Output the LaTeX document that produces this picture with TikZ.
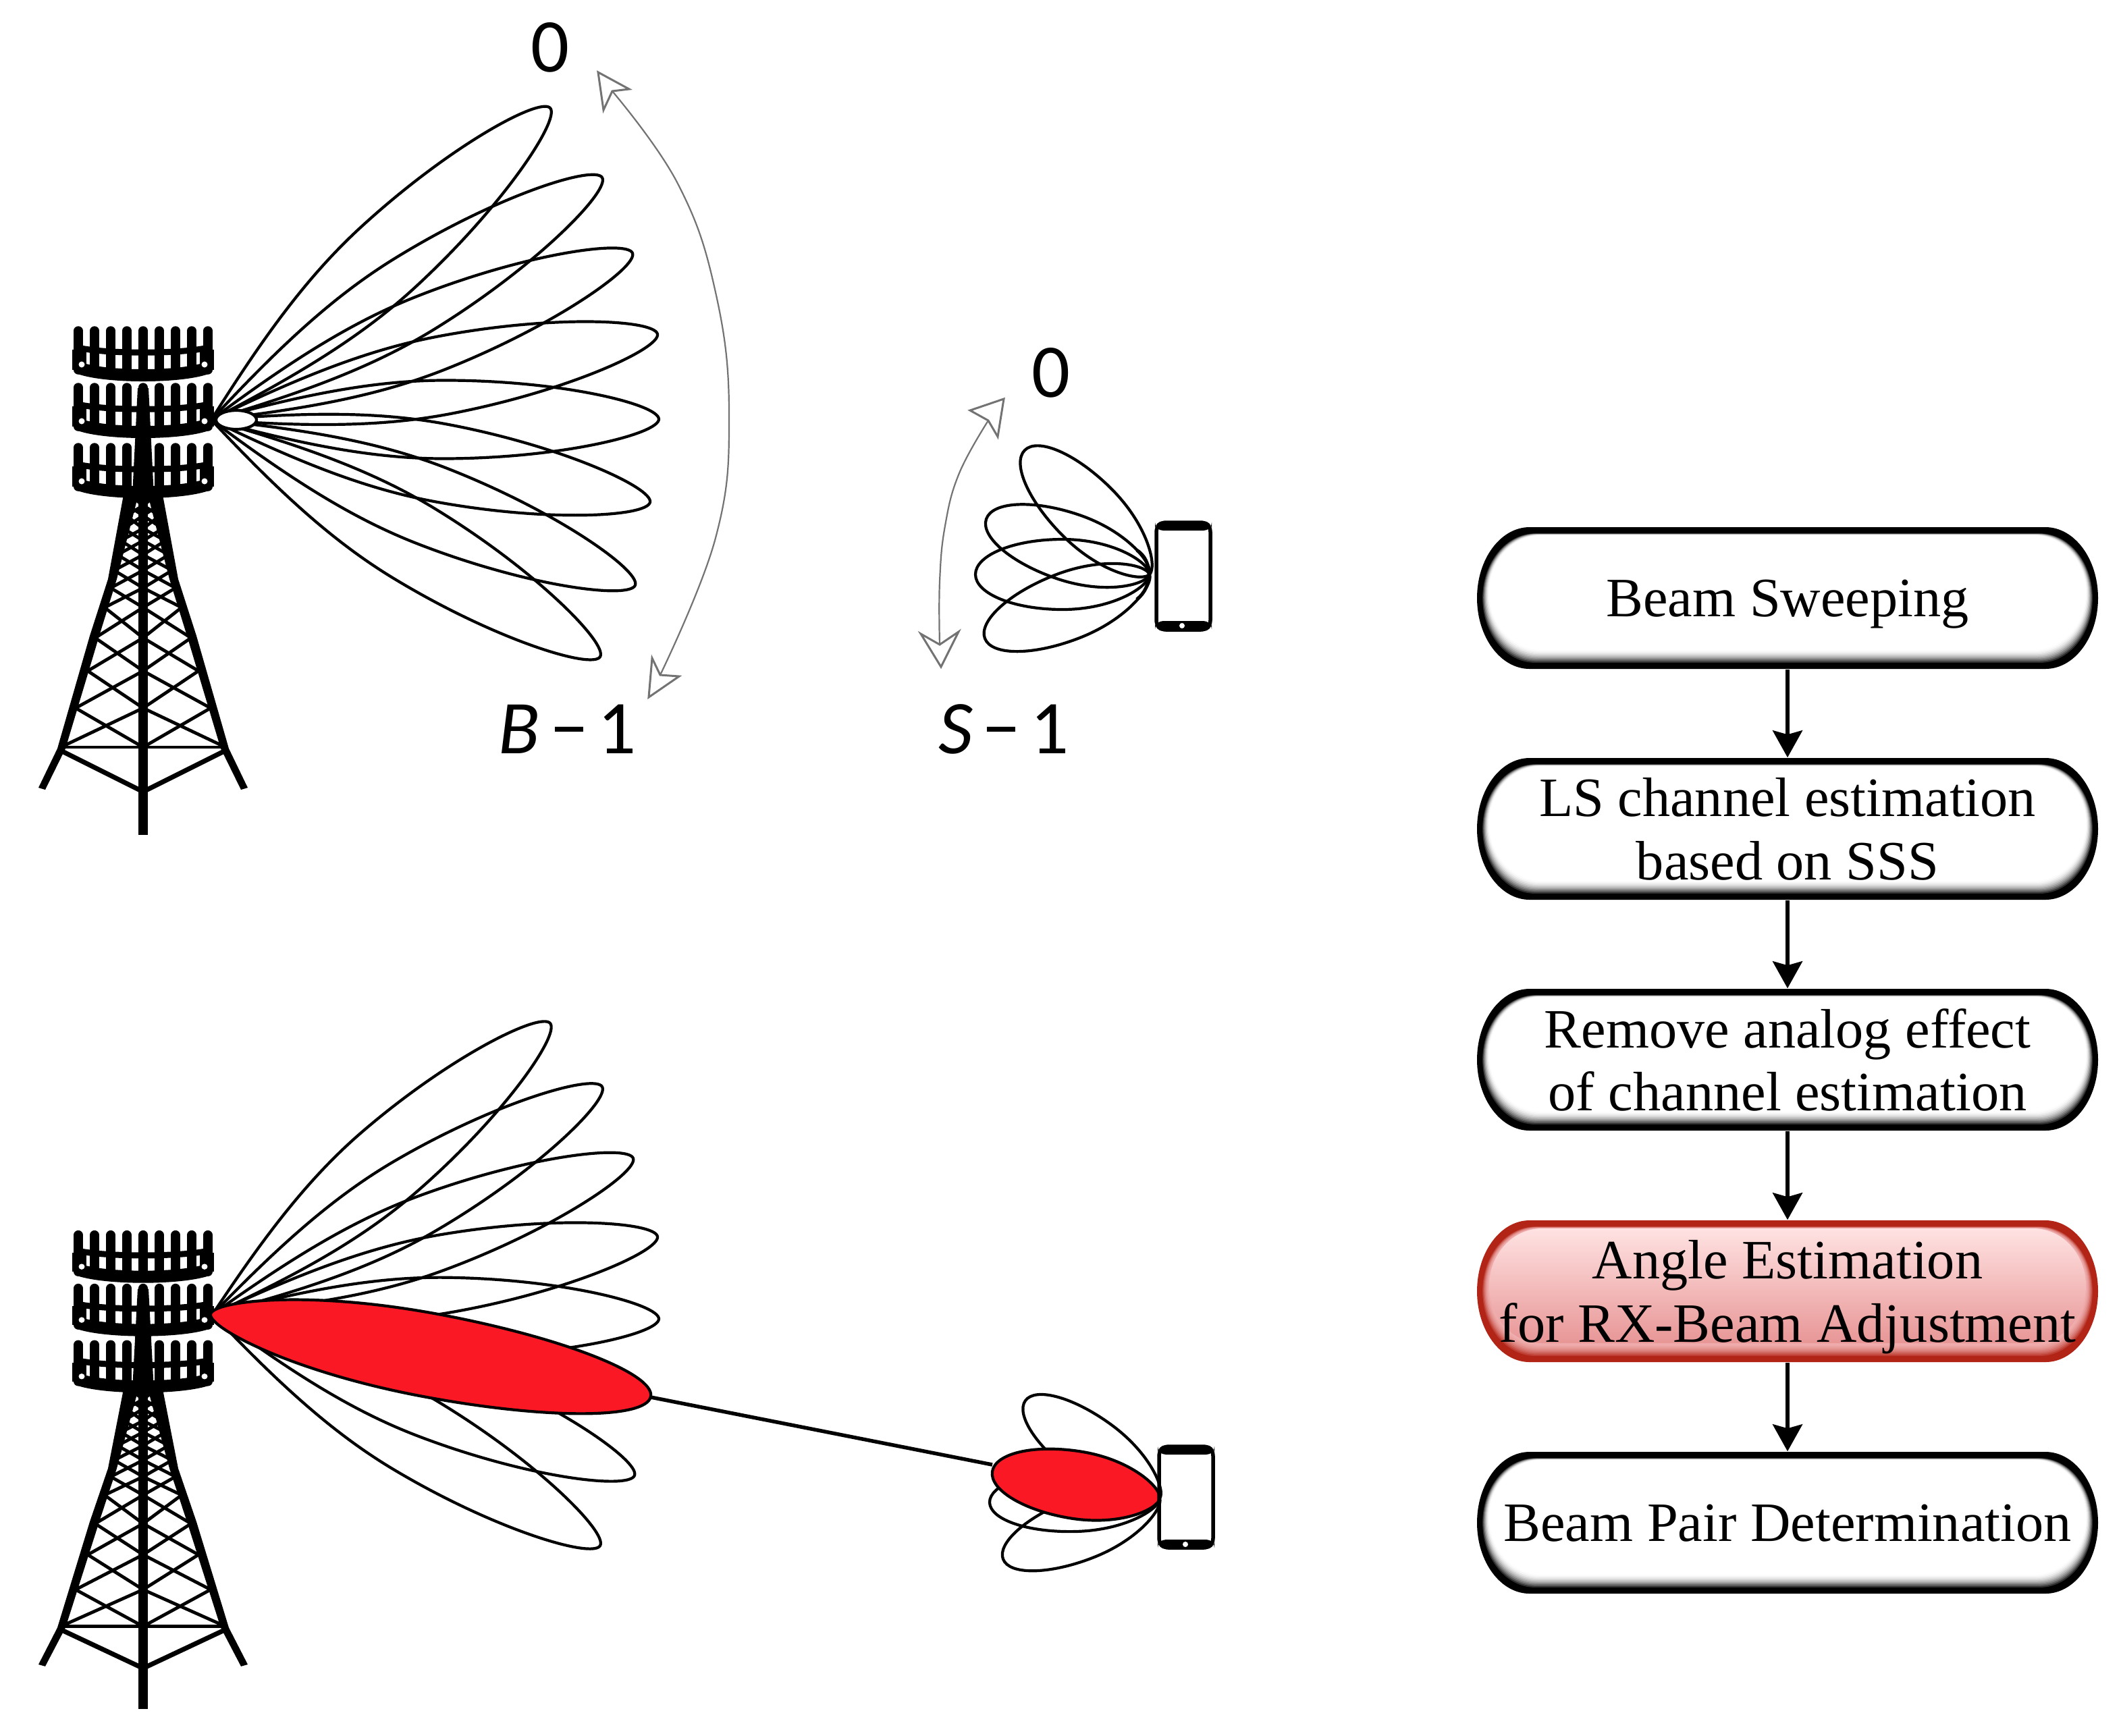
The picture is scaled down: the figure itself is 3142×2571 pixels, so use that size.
\documentclass[tikz,border=0pt]{standalone}
\usepackage{fontspec}
\setmainfont{Liberation Serif}
\newfontfamily\labfont{Carlito}
\usetikzlibrary{arrows.meta}
\definecolor{redlobe}{RGB}{250,24,36}
\definecolor{arrgray}{RGB}{115,115,115}
\definecolor{rededge}{RGB}{178,36,22}
\definecolor{pinkmid}{RGB}{240,175,175}
\tikzset{
  lobeline/.style={draw=black,line width=0.042cm,line join=round},
  redfill/.style={fill=redlobe},
  flowtext/.style={shape=rectangle,minimum width=9.21cm,minimum height=2.1cm,inner sep=0pt,align=center,text depth=0pt,
     font=\fontsize{23.4}{26.7}\selectfont},
  flowarrow/.style={line width=0.055cm,-{Stealth[length=0.4cm,width=0.44cm,inset=0.06cm]}},
  mathlabel/.style={font=\labfont\fontsize{32}{34}\selectfont,inner sep=0pt},
  sweeparc/.style={draw=arrgray,line width=0.022cm},
  sweephead/.style={draw=arrgray,fill=white,line width=0.03cm,line join=miter},
  towerline/.style={line width=0.048cm,draw=black},
}
% slender lobe: optional style, apex x y, tip x y, half width
\newcommand{\lobe}[6][]{%
  \pgfmathsetmacro\ldx{#4-#2}\pgfmathsetmacro\ldy{#5-#3}%
  \pgfmathsetmacro\lln{veclen(\ldx,\ldy)}%
  \pgfmathsetmacro\lnx{-\ldy/\lln*#6}\pgfmathsetmacro\lny{\ldx/\lln*#6}%
  \draw[lobeline,#1] (#2,#3)
   .. controls ({#2+.2*\ldx+.62*\lnx},{#3+.2*\ldy+.62*\lny}) and ({#2+.36*\ldx+\lnx},{#3+.36*\ldy+\lny})
   .. ({#2+.52*\ldx+\lnx},{#3+.52*\ldy+\lny})
   .. controls ({#2+.78*\ldx+\lnx},{#3+.78*\ldy+\lny}) and ({#4+.38*\lnx},{#5+.38*\lny})
   .. (#4,#5)
   .. controls ({#4-.38*\lnx},{#5-.38*\lny}) and ({#2+.78*\ldx-\lnx},{#3+.78*\ldy-\lny})
   .. ({#2+.52*\ldx-\lnx},{#3+.52*\ldy-\lny})
   .. controls ({#2+.36*\ldx-\lnx},{#3+.36*\ldy-\lny}) and ({#2+.2*\ldx-.62*\lnx},{#3+.2*\ldy-.62*\lny})
   .. cycle;%
}
% near-elliptic lobe, same arguments
\newcommand{\ellobe}[6][]{%
  \pgfmathsetmacro\ldx{#4-#2}\pgfmathsetmacro\ldy{#5-#3}%
  \pgfmathsetmacro\lln{veclen(\ldx,\ldy)}%
  \pgfmathsetmacro\lnx{-\ldy/\lln*#6}\pgfmathsetmacro\lny{\ldx/\lln*#6}%
  \draw[lobeline,#1] (#2,#3)
   .. controls ({#2+.32*\lnx},{#3+.32*\lny}) and ({#2+.2*\ldx+\lnx},{#3+.2*\ldy+\lny})
   .. ({#2+.5*\ldx+\lnx},{#3+.5*\ldy+\lny})
   .. controls ({#2+.78*\ldx+\lnx},{#3+.78*\ldy+\lny}) and ({#4+.55*\lnx},{#5+.55*\lny})
   .. (#4,#5)
   .. controls ({#4-.55*\lnx},{#5-.55*\lny}) and ({#2+.78*\ldx-\lnx},{#3+.78*\ldy-\lny})
   .. ({#2+.5*\ldx-\lnx},{#3+.5*\ldy-\lny})
   .. controls ({#2+.2*\ldx-\lnx},{#3+.2*\ldy-\lny}) and ({#2-.32*\lnx},{#3-.32*\lny})
   .. cycle;%
}
% pill: style, x0 y0 x1 y1
\newcommand{\pill}[5]{%
  \pgfmathsetmacro\pcy{(#3+#5)/2}\pgfmathsetmacro\pry{(#5-#3)/2}%
  \pgfmathsetmacro\prx{78}\pgfmathsetmacro\pkx{.5523*\prx}\pgfmathsetmacro\pky{.5523*\pry}%
  \path[#1] ({#2+\prx},#3) -- ({#4-\prx},#3)
   .. controls ({#4-\prx+\pkx},#3) and (#4,{\pcy-\pky}) .. (#4,\pcy)
   .. controls (#4,{\pcy+\pky}) and ({#4-\prx+\pkx},#5) .. ({#4-\prx},#5)
   -- ({#2+\prx},#5)
   .. controls ({#2+\prx-\pkx},#5) and (#2,{\pcy+\pky}) .. (#2,\pcy)
   .. controls (#2,{\pcy-\pky}) and ({#2+\prx-\pkx},#3) .. cycle;%
}
% bevel: center y, edge colour, inner colour, final fill options
\newcommand{\bevel}[4]{%
  \pgfmathsetmacro\bt{#1-105}\pgfmathsetmacro\bb{#1+105}%
  \pill{fill=#2}{2188}{\bt}{3108}{\bb}%
  \foreach \i in {1,...,10}{%
    \pgfmathsetmacro\tt{\i/10}\pgfmathsetmacro\mixv{100*(1-\tt)*(1-\tt)}%
    \pgfmathsetmacro\aa{2188+7+11*\tt}\pgfmathsetmacro\cc{3108-7-11*\tt}%
    \pgfmathsetmacro\dd{\bt+9+3*\tt}\pgfmathsetmacro\ee{\bb-7-21*\tt}%
    \colorlet{bevelc}{#2!\mixv!#3}%
    \pill{fill=bevelc}{\aa}{\dd}{\cc}{\ee}%
  }%
  \pgfmathsetmacro\ff{\bt+12}\pgfmathsetmacro\gg{\bb-28}%
  \pill{#4}{2206}{\ff}{3090}{\gg}%
}
% half of a tower, drawn for side +1 and side -1 around the centre line
\newcommand{\halftower}{%
  \fill (-29,733) -- (-52,858) -- (-79,942) -- (-127,1109) -- (-155,1167) -- (-145,1170) -- (-115,1109) -- (-65,942) -- (-39,858) -- (-7,733) -- cycle;
  \draw[line width=0.07cm] (-122,1112) -- (-2,1172);
  \foreach \ya/\ha/\yb/\hb in {1107/122/1049/100,1049/100/994/82,994/82/945/71,945/71/900/57,900/57/871/48,871/48/845/43,845/43/822/38,822/38/801/33,801/33/783/29,783/29/764/25,764/25/749/22,749/22/733/20}{
    \draw[towerline] (-\ha,\ya) -- (0,\yb);
    \draw[towerline] (-\hb,\yb) -- (0,\ya);
  }
  \draw[towerline] (-122,1107) -- (0,1107);
}
% one antenna drum, with y the lower front band
\newcommand{\drum}[1]{%
  \pgfmathsetmacro\dyb{#1}%
  \draw[line width=0.18cm] (-98,{\dyb-8}) .. controls (-60,{\dyb+8}) and (60,{\dyb+8}) .. (98,{\dyb-8});
  \draw[line width=0.09cm] (-101,{\dyb-38}) .. controls (-60,{\dyb-27}) and (60,{\dyb-27}) .. (101,{\dyb-38});
  \foreach \bx in {-100,-76,-52,-28,-4,20,44,68,92}{
    \draw[line width=0.135cm,line cap=round] ({\bx+4},{\dyb-62}) -- ({\bx+4},{\dyb-4});
  }
  \foreach \sd in {-1,1}{
    \fill ({\sd*84},{\dyb-34}) rectangle ({\sd*105},{\dyb-4});
    \fill[white] ({\sd*91},{\dyb-12}) circle (4.5);
  }
}
\newcommand{\tower}{%
  \fill (-8,575) -- (8,575) -- (16,735) -- (-16,735) -- cycle;
  \foreach \s in {1,-1}{\begin{scope}[xscale=\s]\halftower\end{scope}}
  \draw[line width=0.13cm] (0,730) -- (0,1237);
  \drum{552}\drum{636}\drum{725}
}
\begin{document}
\begin{tikzpicture}[x=0.01cm,y=-0.01cm]
\useasboundingbox (0,0) rectangle (3142,2571);
\fill[white] (0,0) rectangle (3142,2571);

% towers
\begin{scope}[shift={(212,0)}]\tower\end{scope}
\begin{scope}[shift={(212,1369)},yscale=0.94]\tower\end{scope}

% upper beam fan
\lobe{313}{622}{815}{160}{60}
\lobe{313}{622}{892}{263}{60}
\lobe{313}{622}{937}{375}{58}
\lobe{313}{622}{974}{495}{58}
\lobe{313}{622}{976}{621}{58}
\lobe{313}{622}{963}{744}{58}
\lobe{313}{622}{941}{867}{60}
\lobe{313}{622}{889}{973}{60}
\draw[lobeline,fill=white] (350,622) ellipse (30 and 14);

% lower beam fan
\lobe{315}{1947}{815}{1516}{60}
\lobe{315}{1947}{892}{1610}{60}
\lobe{315}{1947}{938}{1716}{58}
\lobe{315}{1947}{974}{1832}{58}
\lobe{315}{1947}{976}{1954}{58}
\lobe{315}{1947}{940}{2186}{60}
\lobe{315}{1947}{889}{2290}{60}
\ellobe[redfill]{312}{1947}{964}{2069}{62}

% upper phone lobes
\ellobe{1703}{851}{1518}{667}{50}
\ellobe{1703}{851}{1461}{769}{50}
\ellobe{1703}{851}{1445}{851}{52}
\ellobe{1703}{851}{1459}{946}{50}
\draw[line width=0.05cm] (1684,815) .. controls (1708,830) and (1708,870) .. (1684,888);

% upper phone
\draw[line width=0.055cm,rounded corners=0.14cm] (1713,774) rectangle (1793,933);
\fill[rounded corners=0.12cm] (1711,772) -- (1795,772) -- (1795,786) -- (1711,786) -- cycle;
\fill[rounded corners=0.12cm] (1711,920) -- (1795,920) -- (1795,935) -- (1711,935) -- cycle;
\fill[white] (1751,927) circle (4);

% lower phone lobes
\ellobe{1718}{2220}{1519}{2075}{46}
\ellobe{1718}{2220}{1466}{2226}{46}
\ellobe{1718}{2220}{1486}{2310}{46}
\ellobe[redfill]{1718}{2220}{1470}{2180}{50}

% lower phone
\draw[line width=0.055cm,rounded corners=0.14cm] (1717,2143) rectangle (1797,2293);
\fill[rounded corners=0.12cm] (1715,2141) -- (1799,2141) -- (1799,2155) -- (1715,2155) -- cycle;
\fill[rounded corners=0.12cm] (1715,2281) -- (1799,2281) -- (1799,2295) -- (1715,2295) -- cycle;
\fill[white] (1756,2288) circle (4);

% link between the selected beams
\coordinate (bstip) at (964,2070);
\coordinate (uetip) at (1470,2170);
\draw[line width=0.055cm] (bstip) -- (uetip);

% sweep arrows
\draw[sweeparc] plot[smooth,tension=0.7] coordinates {(907,135) (1004,272) (1060,433) (1080,615) (1060,797) (978,1000)};
\draw[sweephead] (886,107) -- (932,132) -- (907,135) -- (894,163) -- cycle;
\draw[sweephead] (961,1033) -- (966,975) -- (978,1000) -- (1006,1002) -- cycle;
\draw[sweeparc] plot[smooth,tension=0.7] coordinates {(1464,623) (1421,701) (1400,779) (1392,862) (1392,955)};
\draw[sweephead] (1487,591) -- (1437,608) -- (1464,623) -- (1478,647) -- cycle;
\draw[sweephead] (1394,988) -- (1364,939) -- (1392,955) -- (1420,936) -- cycle;

% labels
\node[mathlabel] (lzeroB) at (815,70) {0};
\node[mathlabel] (lzeroS) at (1557,552) {0};
\node[mathlabel] (lendB) at (841,1080) {\textit{B}\hspace{-3pt} − \hspace{-3pt}1};
\node[mathlabel] (lendS) at (1487,1080) {\textit{S}\hspace{-3pt} − \hspace{-3pt}1};

% flow chart
\bevel{886}{black}{white}{fill=white}
\bevel{1228}{black}{white}{fill=white}
\bevel{1570}{black}{white}{fill=white}
\bevel{1913}{rededge}{pinkmid}{top color={rgb,255:red,255;green,226;blue,226},bottom color={rgb,255:red,232;green,150;blue,150}}
\bevel{2256}{black}{white}{fill=white}
\node[flowtext] (f1) at (2648,886) {Beam Sweeping};
\node[flowtext] (f2) at (2648,1228) {LS channel estimation\\based on SSS};
\node[flowtext] (f3) at (2648,1570) {Remove analog effect\\of channel estimation};
\node[flowtext] (f4) at (2648,1913) {Angle Estimation\\for RX-Beam Adjustment};
\node[flowtext] (f5) at (2648,2256) {Beam Pair Determination};
\draw[flowarrow] (f1) -- (f2);
\draw[flowarrow] (f2) -- (f3);
\draw[flowarrow] (f3) -- (f4);
\draw[flowarrow] (f4) -- (f5);
\end{tikzpicture}
\end{document}
